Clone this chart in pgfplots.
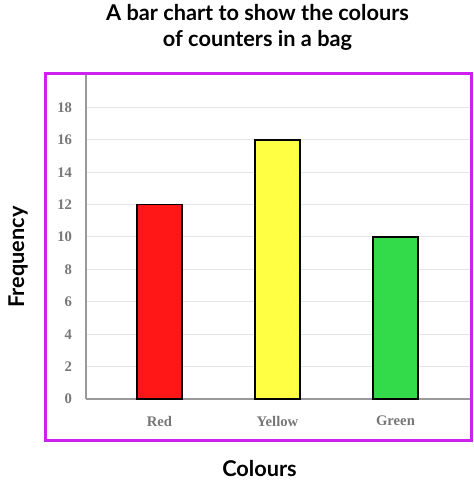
\documentclass[border=0pt]{standalone}
\usepackage{pgfplots}
\pgfplotsset{compat=1.18}
\usepackage{fontspec}
\setmainfont{Liberation Serif}
\newfontfamily\headfont{Lato}

\definecolor{frame}{HTML}{CC22EE}
\definecolor{barred}{HTML}{FF1616}
\definecolor{baryellow}{HTML}{FFFF44}
\definecolor{bargreen}{HTML}{33DB4A}
\definecolor{axisgray}{HTML}{999999}
\definecolor{labelgray}{HTML}{777777}

\begin{document}
\begin{tikzpicture}[x=0.75pt, y=0.75pt]
  % page box, 474 x 482 px
  \path (0,0) rectangle (474,482);

  \begin{axis}[
      at={(64.5pt,62.25pt)},
      anchor=south west,
      scale only axis,
      width=288.75pt,
      height=243pt,
      xmin=-0.623, xmax=2.64,
      ymin=0, ymax=20,
      xtick={0,1,2},
      xticklabels={Red, Yellow, Green},
      ytick={0,2,...,18},
      axis x line=bottom,
      axis y line=left,
      axis line style={-, draw=axisgray, line width=1.6pt},
      major tick length=0pt,
      ymajorgrids,
      grid style={draw=gray!20, line width=0.75pt},
      ybar,
      bar width=33.75pt,
      bar shift=0pt,
      /pgf/number format/assume math mode=true,
      ticklabel style={font=\fontsize{11}{12}\selectfont\bfseries, text=labelgray},
      xticklabel style={yshift=-9.25pt},
      yticklabel style={xshift=-7pt},
    ]
    \addplot[fill=barred, draw=black, line width=1.1pt] coordinates {(0,12)};
    \addplot[fill=baryellow, draw=black, line width=1.1pt] coordinates {(1,16)};
    \addplot[fill=bargreen, draw=black, line width=1.1pt] coordinates {(2,10)};
  \end{axis}

  \draw[frame, line width=2.25pt] (45,408) rectangle (471,41);

  \node[anchor=base, font=\headfont\bfseries\fontsize{16.3}{19}\selectfont] at (257.5,461) {A bar chart to show the colours};
  \node[anchor=base, font=\headfont\bfseries\fontsize{16.3}{19}\selectfont] at (257.5,435) {of counters in a bag};
  \node[anchor=base, font=\headfont\bfseries\fontsize{16.3}{19}\selectfont] at (259.5,5) {Colours};
  \node[anchor=base, rotate=90, font=\headfont\bfseries\fontsize{16.3}{19}\selectfont] at (24,225) {Frequency};
\end{tikzpicture}
\end{document}
